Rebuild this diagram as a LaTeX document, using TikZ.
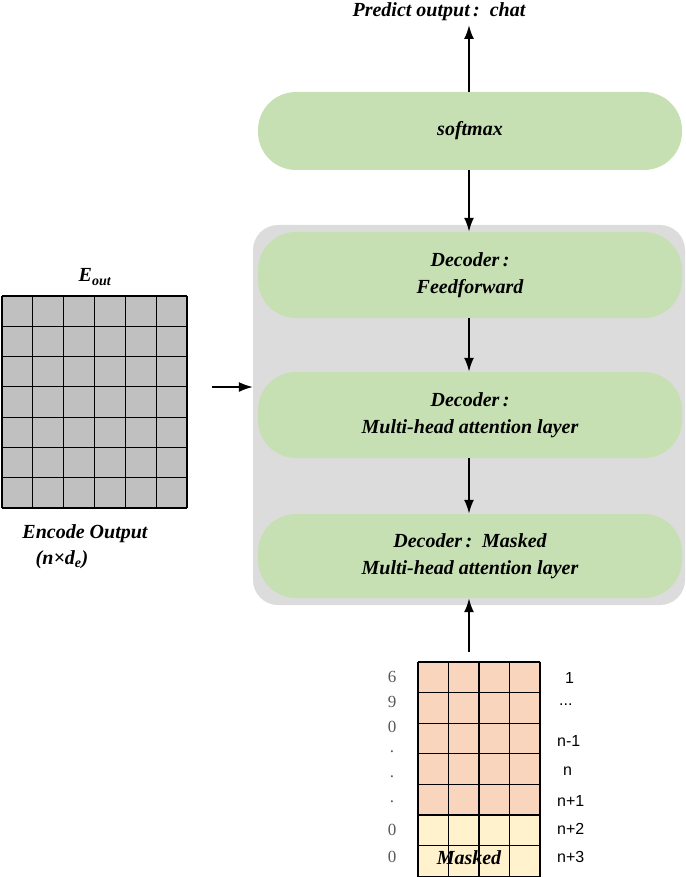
\documentclass[tikz,border=0pt]{standalone}
\usepackage{fontspec}
\setmainfont{Liberation Serif}
\newfontfamily\sansf{Liberation Sans}
\usetikzlibrary{arrows.meta}
\definecolor{pillgreen}{HTML}{C6E0B4}
\definecolor{boxgray}{HTML}{DCDCDC}
\definecolor{cellgray}{HTML}{C0C0C0}
\definecolor{cellorange}{HTML}{F8D5BC}
\definecolor{cellyellow}{HTML}{FFF2CC}
\tikzset{
  pill/.style={draw=none,fill=pillgreen,rounded corners=38pt,minimum width=424pt,align=center,font=\bfseries\itshape\fontsize{20}{27}\selectfont,inner sep=0pt},
  lbl/.style={font=\bfseries\itshape\fontsize{20}{24}\selectfont,inner sep=0pt},
  arr/.style={-{Latex[length=14pt,width=10pt]},line width=2pt},
  num/.style={font=\fontsize{17}{19}\selectfont,text=black!65,inner sep=0pt},
  rlab/.style={font=\sansf\fontsize{16}{18}\selectfont,inner sep=0pt,anchor=west}
}
\begin{document}
\begin{tikzpicture}[x=1pt,y=-1pt]
\useasboundingbox (0,0) rectangle (685,877);
\node[draw=none,fill=boxgray,rounded corners=25pt,minimum width=432pt,minimum height=380pt,inner sep=0pt] (cont) at (469,415) {};
\node[pill,minimum height=78pt] (soft) at (470,131) {softmax};
\node[pill,minimum height=86pt] (ff) at (470,275) {Decoder\,:\\Feedforward};
\node[pill,minimum height=86pt] (mh) at (470,415) {Decoder\,:\\Multi-head attention layer};
\node[pill,minimum height=84pt] (mm) at (470,556) {Decoder\,:\ \ Masked\\Multi-head attention layer};
\node[lbl] (title) at (439,12) {Predict output\,:\ \ chat};
\coordinate (top) at (469,25);
\draw[arr] (soft.north -| top) -- (top);
\draw[arr] (soft.south -| top) -- (ff.north -| top);
\draw[arr] (ff.south -| top) -- (mh.north -| top);
\draw[arr] (mh.south -| top) -- (mm.north -| top);
\coordinate (inp) at (469,652);
\draw[arr] (inp) -- (mm.south -| inp);
% encoder grid
\fill[cellgray] (2,296) rectangle (187,508);
\foreach \i in {0,...,6} \draw[line width=1.2pt] (2+\i*30.83,296) -- (2+\i*30.83,508);
\foreach \j in {0,...,7} \draw[line width=1.2pt] (2,296+\j*30.29) -- (187,296+\j*30.29);
\node[lbl] (eout) at (95,277) {E\textsubscript{out}};
\node[lbl] (enc) at (85,534) {Encode Output};
\node[lbl] (encd) at (62,560) {(n×d\textsubscript{e})};
\coordinate (ein) at (212,387);
\draw[arr,line width=1.5pt] (ein) -- (cont.west |- ein);
% input grid
\fill[cellorange] (418,662) rectangle (540,815);
\fill[cellyellow] (418,815) rectangle (540,877);
\foreach \i in {0,...,4} \draw[line width=1.1pt] (418+\i*30.5,662) -- (418+\i*30.5,877);
\foreach \j in {0,...,7} \draw[line width=1.1pt] (418,662+\j*30.6) -- (540,662+\j*30.6);
\node[lbl] (mk) at (469,858) {Masked};
\foreach \t/\y in {6/677,9/702,0/727,./752,./777,./802,0/830,0/857}
  \node[num] at (392,\y) {\t};
\node[rlab] at (565,678) {1};
\node[rlab] at (559,705) {...};
\node[rlab] at (557,741) {n-1};
\node[rlab] at (563,771) {n};
\node[rlab] at (557,801) {n+1};
\node[rlab] at (557,829) {n+2};
\node[rlab] at (557,857) {n+3};
\end{tikzpicture}
\end{document}
